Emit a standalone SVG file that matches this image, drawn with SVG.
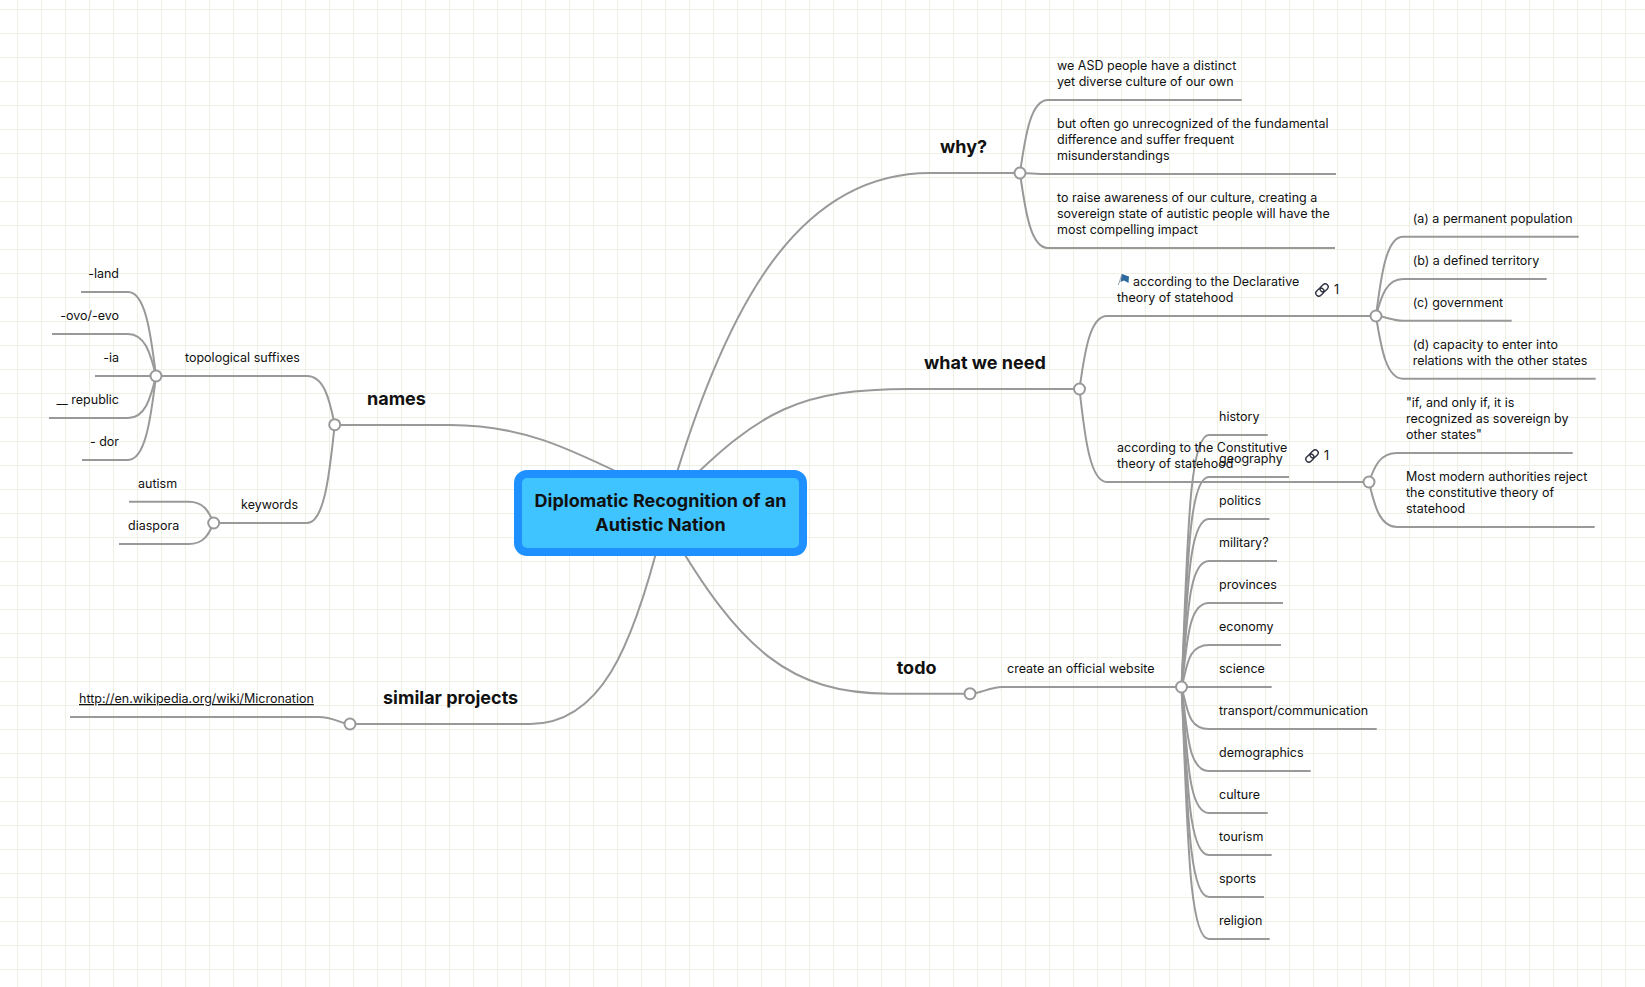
<svg xmlns="http://www.w3.org/2000/svg" width="1645" height="987" viewBox="0 0 1645 987">
<style>
text{font-family:Inter,"Noto Sans",sans-serif;fill:#111;}
.t{font-size:12.5px;}
.b{font-size:18px;font-weight:700;}
.r{text-anchor:end;}
.c{fill:none;stroke:#999;stroke-width:2;}
.j{fill:#fff;stroke:#999;stroke-width:2;}
</style>
<defs>
<pattern id="grid" width="24" height="24" patternUnits="userSpaceOnUse">
<rect x="17" y="0" width="1" height="24" fill="#eef0e6"/>
<rect x="0" y="9" width="24" height="1" fill="#eef0e6"/>
</pattern>
<g id="link" fill="none" stroke="#2a2d3e" stroke-width="1.3">
<rect x="-7.5" y="-3" width="9" height="6" rx="3" transform="rotate(-45)"/>
<rect x="-1.5" y="-3" width="9" height="6" rx="3" transform="rotate(-45)"/>
</g>
</defs>
<rect width="1645" height="987" fill="#fff"/>
<rect width="1645" height="987" fill="url(#grid)"/>
<g id="connectors">
<path class="c" d="M665,513C725,300 800,173 930,173L1020,173"/>
<path class="c" d="M680,490C760,410 800,389 910,389L1079.5,389"/>
<path class="c" d="M670,530C740,650 790,693.7 890,693.7L970,693.7"/>
<path class="c" d="M662,530C632,650 600,724 530,724L350,724"/>
<path class="c" d="M640,483C565,446 520,425 450,425L334.7,425"/>
<path class="c" d="M1020,173C1025.6,132.9 1031.2,100 1048,100L1241.7,100"/>
<path class="c" d="M1020,173C1030,173 1035,174 1048,174L1336,174"/>
<path class="c" d="M1020,173C1025.6,214 1031.2,248 1048,248L1335,248"/>
<path class="c" d="M1079.5,389C1085,348.9 1090.5,316 1107,316L1376,316"/>
<path class="c" d="M1079.5,389C1085,440 1090.5,482 1107,482L1369,482"/>
<path class="c" d="M1376,316C1381.4,272.4 1386.8,236.7 1403,236.7L1578.7,236.7"/>
<path class="c" d="M1376,316C1381.4,295.6 1386.8,279 1403,279L1546.7,279"/>
<path class="c" d="M1376,316C1385,316 1392,320.7 1403,320.7L1511.7,320.7"/>
<path class="c" d="M1376,316C1381.4,350.5 1386.8,378.7 1403,378.7L1595.7,378.7"/>
<path class="c" d="M1369,482C1374.6,466 1380.2,453 1397,453L1572.7,453"/>
<path class="c" d="M1369,482C1374.6,506.8 1380.2,527 1397,527L1594.7,527"/>
<path class="c" d="M334.7,424.7C329.2,397.9 323.6,376 307,376L156,376"/>
<path class="c" d="M334.7,424.7C329.2,478.8 323.6,523 307,523L213.7,523"/>
<path class="c" d="M156,376C150.4,329.8 144.8,292 128,292L81,292"/>
<path class="c" d="M156,376C150.4,352.9 144.8,334 128,334L52,334"/>
<path class="c" d="M156,376L95,376"/>
<path class="c" d="M156,376C150.4,399.1 144.8,418 128,418L49,418"/>
<path class="c" d="M156,376C150.4,422.2 144.8,460 128,460L82,460"/>
<path class="c" d="M213.7,523C208.7,511.3 203.7,501.7 188.7,501.7L129,501.7"/>
<path class="c" d="M213.7,523C208.7,534.6 203.7,544 188.7,544L119,544"/>
<path class="c" d="M970,693.7C980,693.7 990,687 1002,687L1181.5,687"/>
<path class="c" d="M350,724C340,724 335,717 318,717L70,717"/>
<path class="c" d="M1181.500,687C1187.500,561 1187.500,435 1209,435L1267.700,435"/>
<path class="c" d="M1181.500,687C1187.500,582 1187.500,477 1209,477L1289,477"/>
<path class="c" d="M1181.500,687C1187.500,603 1187.500,519 1209,519L1269.500,519"/>
<path class="c" d="M1181.500,687C1187.500,624 1187.500,561 1209,561L1277,561"/>
<path class="c" d="M1181.500,687C1187.500,645 1187.500,603 1209,603L1283,603"/>
<path class="c" d="M1181.500,687C1187.500,666 1187.500,645 1209,645L1281,645"/>
<path class="c" d="M1181.500,687L1271.700,687"/>
<path class="c" d="M1181.500,687C1187.500,708 1187.500,729 1209,729L1376.700,729"/>
<path class="c" d="M1181.500,687C1187.500,729 1187.500,771 1209,771L1310.700,771"/>
<path class="c" d="M1181.500,687C1187.500,750 1187.500,813 1209,813L1267.700,813"/>
<path class="c" d="M1181.500,687C1187.500,771 1187.500,855 1209,855L1271.700,855"/>
<path class="c" d="M1181.500,687C1187.500,792 1187.500,897 1209,897L1264,897"/>
<path class="c" d="M1181.500,687C1187.500,813 1187.500,939 1209,939L1269.700,939"/>
</g>
<g id="junctions">
<circle class="j" cx="1020" cy="173" r="5.5"/>
<circle class="j" cx="1079.5" cy="389" r="5.5"/>
<circle class="j" cx="970" cy="693.7" r="5.5"/>
<circle class="j" cx="350" cy="724" r="5.5"/>
<circle class="j" cx="334.7" cy="424.7" r="5.5"/>
<circle class="j" cx="1376" cy="316" r="5.5"/>
<circle class="j" cx="1369" cy="482" r="5.5"/>
<circle class="j" cx="156" cy="376" r="5.5"/>
<circle class="j" cx="213.7" cy="523" r="5.5"/>
<circle class="j" cx="1181.5" cy="687" r="5.5"/>
</g>
<g id="center">
<rect x="518" y="474" width="285" height="78" rx="9" fill="#40c4ff" stroke="#1e90ff" stroke-width="8"/>
<text x="660.5" y="507" font-size="18" font-weight="700" text-anchor="middle">Diplomatic Recognition of an</text>
<text x="660.5" y="531" font-size="18" font-weight="700" text-anchor="middle">Autistic Nation</text>
</g>
<g id="why"><text class="b" x="940" y="153">why?</text></g>
<g id="why-1"><text class="t" x="1057" y="70">we ASD people have a distinct</text><text class="t" x="1057" y="86">yet diverse culture of our own</text></g>
<g id="why-2"><text class="t" x="1057" y="128">but often go unrecognized of the fundamental</text><text class="t" x="1057" y="144">difference and suffer frequent</text><text class="t" x="1057" y="160">misunderstandings</text></g>
<g id="why-3"><text class="t" x="1057" y="202">to raise awareness of our culture, creating a</text><text class="t" x="1057" y="218">sovereign state of autistic people will have the</text><text class="t" x="1057" y="234">most compelling impact</text></g>
<g id="need"><text class="b" x="924" y="369">what we need</text></g>
<g id="declarative">
<path d="M1118.300,285L1122,274" stroke="#9aa5ad" stroke-width="1" fill="none"/>
<path d="M1122,274L1129,276.500L1128.500,283L1124,280.500L1120.500,282Z" fill="#2f6a9e"/>
<text class="t" x="1133" y="286">according to the Declarative</text><text class="t" x="1117" y="302">theory of statehood</text>
<use href="#link" x="1322" y="290"/><text class="t" x="1334" y="294">1</text>
</g>
<g id="need-a"><text class="t" x="1412.700" y="223">(a) a permanent population</text></g>
<g id="need-b"><text class="t" x="1412.700" y="265">(b) a defined territory</text></g>
<g id="need-c"><text class="t" x="1412.700" y="307">(c) government</text></g>
<g id="need-d"><text class="t" x="1412.700" y="349">(d) capacity to enter into</text><text class="t" x="1412.700" y="365">relations with the other states</text></g>
<g id="constitutive">
<text class="t" x="1117" y="452">according to the Constitutive</text><text class="t" x="1117" y="468">theory of statehood</text>
<use href="#link" x="1312" y="456"/><text class="t" x="1324" y="460">1</text>
</g>
<g id="const-1"><text class="t" x="1406" y="407">"if, and only if, it is</text><text class="t" x="1406" y="423">recognized as sovereign by</text><text class="t" x="1406" y="439">other states"</text></g>
<g id="const-2"><text class="t" x="1406" y="481">Most modern authorities reject</text><text class="t" x="1406" y="497">the constitutive theory of</text><text class="t" x="1406" y="513">statehood</text></g>
<g id="todo"><text class="b" x="896.700" y="674">todo</text></g>
<g id="website"><text class="t" x="1007" y="673">create an official website</text></g>
<g id="history"><text class="t" x="1219" y="421">history</text></g>
<g id="geography"><text class="t" x="1219" y="463">geography</text></g>
<g id="politics"><text class="t" x="1219" y="505">politics</text></g>
<g id="military"><text class="t" x="1219" y="547">military?</text></g>
<g id="provinces"><text class="t" x="1219" y="589">provinces</text></g>
<g id="economy"><text class="t" x="1219" y="631">economy</text></g>
<g id="science"><text class="t" x="1219" y="673">science</text></g>
<g id="transport"><text class="t" x="1219" y="715">transport/communication</text></g>
<g id="demographics"><text class="t" x="1219" y="757">demographics</text></g>
<g id="culture"><text class="t" x="1219" y="799">culture</text></g>
<g id="tourism"><text class="t" x="1219" y="841">tourism</text></g>
<g id="sports"><text class="t" x="1219" y="883">sports</text></g>
<g id="religion"><text class="t" x="1219" y="925">religion</text></g>
<g id="similar"><text class="b" x="383" y="704">similar projects</text></g>
<g id="micronation"><text class="t" x="79" y="703" text-decoration="underline">http://en.wikipedia.org/wiki/Micronation</text></g>
<g id="names"><text class="b" x="367" y="405">names</text></g>
<g id="topological"><text class="t" x="185" y="362">topological suffixes</text></g>
<g id="keywords"><text class="t r" x="298" y="509">keywords</text></g>
<g id="land"><text class="t r" x="119" y="278">-land</text></g>
<g id="ovo"><text class="t r" x="119" y="320">-ovo/-evo</text></g>
<g id="ia"><text class="t r" x="119" y="362">-ia</text></g>
<g id="republic"><text class="t r" x="119" y="404">__ republic</text></g>
<g id="dor"><text class="t r" x="119" y="446">- dor</text></g>
<g id="autism"><text class="t" x="138" y="488">autism</text></g>
<g id="diaspora"><text class="t" x="128" y="530">diaspora</text></g>
</svg>
